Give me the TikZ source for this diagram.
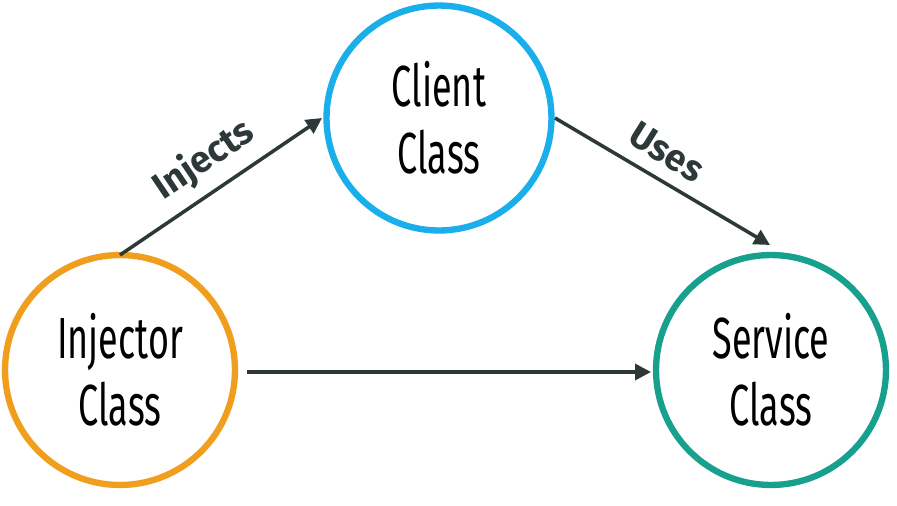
\documentclass[tikz,border=0pt]{standalone}
\usepackage{fontspec}
\setmainfont{Fira Sans}
\usetikzlibrary{arrows.meta}
\definecolor{corange}{HTML}{F09E1E}
\definecolor{cblue}{HTML}{1AAEEB}
\definecolor{cteal}{HTML}{17A08E}
\definecolor{cdark}{HTML}{2D3838}
\tikzset{
  cls/.style={circle,line width=3.6pt,inner sep=0pt,align=center,
    font=\fontsize{33}{38}\selectfont},
  conn/.style={draw=cdark,line width=2pt,-{Triangle[length=9pt,width=9pt]}},
  lbl/.style={font=\fontsize{21}{24}\selectfont\bfseries,text=cdark}
}
\newcommand{\nar}[1]{\scalebox{0.62}[1]{#1}}
\begin{document}
\begin{tikzpicture}[x=0.02cm,y=-0.02cm]
\useasboundingbox (0,0) rectangle (897,505);
\fill[white] (0,0) rectangle (897,505);
\node[cls,draw=cblue,minimum size=4.5cm] (client) at (439,118) {\nar{Client}\\\nar{Class}};
\node[cls,draw=corange,minimum size=4.6cm] (injector) at (120,370) {\nar{Injector}\\\nar{Class}};
\node[cls,draw=cteal,minimum size=4.6cm] (service) at (771,370) {\nar{Service}\\\nar{Class}};
\coordinate (a1) at (120,255);
\coordinate (a2) at (322,118);
\coordinate (b1) at (555,118);
\coordinate (b2) at (770,245);
\coordinate (c1) at (247,372);
\coordinate (c2) at (651,372);
\draw[conn] (a1) -- (a2);
\draw[conn] (b1) -- (b2);
\draw[conn] (c1) -- (c2);
\node[lbl,rotate=34] (inj) at (204,160) {Injects};
\node[lbl,rotate=-32] (uses) at (667,152) {Uses};
\end{tikzpicture}
\end{document}
